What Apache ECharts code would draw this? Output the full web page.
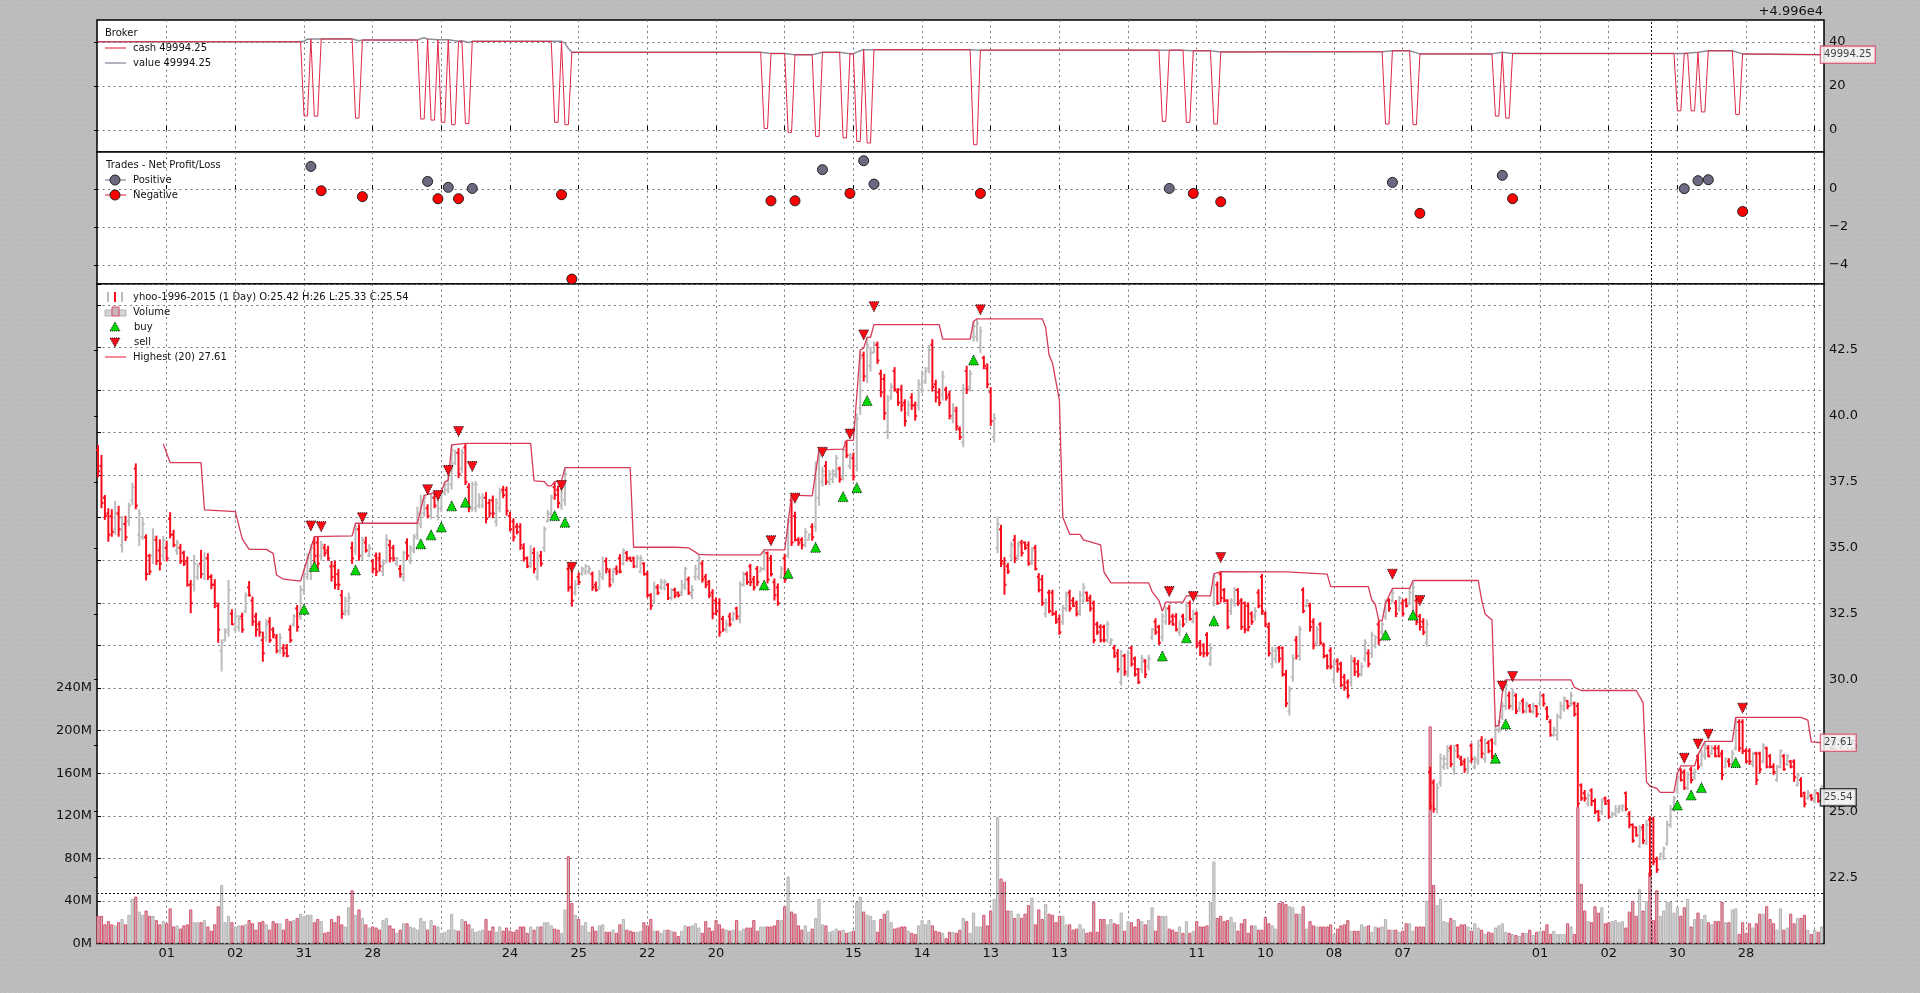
<!DOCTYPE html>
<html>
<head>
<meta charset="utf-8">
<title>yhoo backtest</title>
<script src="https://cdn.jsdelivr.net/npm/echarts@6/dist/echarts.min.js"></script>
<style>
html,body{margin:0;padding:0;background:#bdbbbc;}
#main{width:1920px;height:993px;}
</style>
</head>
<body>
<div id="main"></div>
<script>
//bar values, one entry per trading day
var high = [
38.90,38.52,37.00,36.50,36.46,36.78,36.59,36.21,36.21,36.71,
37.47,38.20,36.46,36.16,35.51,34.77,35.74,35.46,35.32,35.45,
35.27,36.35,35.68,35.30,35.15,34.89,34.67,33.78,34.73,34.41,
34.92,34.83,34.79,34.00,33.81,32.92,31.53,31.95,33.78,32.67,
32.62,32.45,32.54,33.31,33.74,33.15,32.54,32.23,31.82,32.30,
32.37,31.99,31.73,31.76,31.35,31.35,32.07,32.49,32.83,33.58,
34.19,34.79,35.15,35.42,35.42,35.26,35.15,35.08,34.50,34.51,
34.19,33.40,33.15,33.30,35.23,35.87,35.89,35.42,35.42,35.15,
34.58,34.82,34.82,34.56,35.51,35.30,35.11,34.64,34.35,34.89,
35.36,35.10,35.51,36.56,37.01,37.01,36.65,37.03,37.07,37.07,
37.20,37.51,38.00,38.90,38.71,38.78,38.75,38.96,37.45,37.51,
37.54,37.07,37.07,37.11,36.85,36.98,36.88,37.28,37.35,37.32,
36.37,36.12,35.93,35.93,35.17,34.67,35.11,35.01,34.86,34.88,
35.81,36.44,37.01,37.49,37.36,37.51,38.02,34.35,34.29,33.78,
34.07,34.29,34.38,34.33,34.10,33.72,34.16,34.67,34.63,34.22,
34.22,34.33,34.76,34.98,34.88,34.67,34.67,34.73,34.73,34.45,
34.12,33.28,33.72,33.62,33.82,33.81,33.66,33.47,33.49,33.34,
33.78,34.29,33.91,33.59,34.35,34.73,34.51,34.01,33.78,33.43,
33.12,33.09,32.42,32.27,32.54,32.58,32.77,33.72,34.10,34.10,
34.39,33.93,34.31,34.29,34.92,34.86,34.73,33.84,33.65,34.31,
34.77,36.12,37.00,36.37,35.40,35.40,35.74,35.55,35.93,38.27,
38.71,38.08,38.29,37.95,37.98,38.52,38.08,38.77,39.07,38.60,
38.61,40.10,42.44,42.44,42.95,42.63,42.82,42.82,41.75,41.59,
40.80,41.24,41.85,41.05,41.18,40.63,40.58,40.86,40.54,41.39,
41.72,41.85,42.69,42.91,41.37,41.05,41.71,41.11,40.95,40.48,
40.35,39.60,41.21,41.90,41.74,43.58,43.67,43.39,42.28,41.99,
41.09,40.10,36.19,35.87,34.65,34.42,35.24,35.49,35.24,35.30,
35.24,35.24,35.02,35.11,34.04,33.97,33.09,33.41,33.41,32.62,
32.46,32.84,33.34,33.41,33.13,33.00,33.37,33.66,33.34,33.22,
33.00,32.20,32.10,32.08,32.23,31.57,31.32,31.16,31.13,30.98,
31.13,31.28,30.88,30.44,30.94,30.78,30.94,31.95,32.33,32.08,
32.52,32.77,32.84,32.50,32.52,32.27,32.50,32.96,33.00,32.65,
32.59,31.51,31.38,31.80,31.38,34.01,33.72,34.10,33.47,33.05,
33.09,33.51,33.47,33.09,32.96,32.93,32.59,32.75,33.43,34.01,
32.59,32.17,31.26,31.23,31.28,31.26,30.37,29.76,30.97,31.66,
32.04,33.50,33.05,32.92,32.33,32.04,32.18,31.40,30.97,31.23,
30.77,30.81,30.68,30.22,30.01,30.94,30.85,30.75,30.65,31.53,
31.15,31.82,31.69,32.24,32.20,33.05,33.09,33.43,33.02,33.17,
33.05,33.09,33.46,33.72,33.15,32.49,32.33,32.29,26.70,26.22,
26.07,27.21,27.15,27.52,27.52,27.52,27.56,27.11,27.02,27.08,
27.59,27.11,27.71,27.86,27.78,27.71,27.78,28.28,28.47,29.17,
30.01,29.55,29.67,29.48,29.17,29.29,29.17,29.08,29.13,29.04,
29.55,29.48,29.00,28.50,28.22,28.72,29.17,29.36,29.23,29.55,
29.17,29.13,26.07,25.82,25.72,25.88,25.50,25.06,25.50,25.57,
25.47,25.00,25.25,25.25,25.29,25.76,25.02,24.55,24.43,24.49,
24.53,24.68,24.83,24.80,23.29,23.44,23.67,24.66,25.25,25.59,
26.45,26.64,26.60,26.51,26.70,26.64,27.18,27.34,27.65,27.52,
27.52,27.52,27.52,27.34,27.06,27.02,27.34,28.57,28.50,28.50,
27.40,27.40,27.27,27.27,27.27,27.59,27.46,27.18,26.83,26.77,
27.36,27.18,27.18,26.96,26.98,26.48,26.30,25.76,25.82,25.67,
25.85,25.72,26.00];
var low = [
37.67,36.50,36.06,35.23,35.42,35.49,35.42,34.82,35.26,35.83,
36.62,36.46,35.07,35.30,33.76,33.97,34.39,34.35,34.14,34.51,
34.48,35.36,35.02,34.73,34.39,34.31,33.53,32.52,33.34,33.78,
33.84,33.78,33.78,33.43,32.71,31.40,30.31,31.44,31.63,32.07,
31.78,31.82,31.78,32.52,33.15,32.04,31.63,31.63,30.68,31.44,
31.40,31.57,31.00,30.98,30.87,30.85,31.40,32.01,31.82,32.26,
33.21,33.78,33.78,34.35,34.14,34.51,34.67,34.51,33.72,33.43,
33.40,32.31,32.43,32.43,34.39,34.73,34.51,34.54,34.82,34.64,
34.03,33.93,34.10,33.93,34.41,34.45,34.48,34.29,33.87,33.72,
34.54,34.38,34.79,35.30,35.74,36.18,36.12,36.08,36.50,36.06,
36.35,36.98,37.07,37.20,38.14,37.64,37.83,37.38,36.35,36.37,
36.35,36.50,36.50,35.93,36.15,36.12,35.81,36.35,36.88,36.22,
35.62,35.24,35.51,34.92,34.48,34.23,34.23,34.03,33.76,34.29,
34.83,35.97,36.12,36.82,36.50,36.44,36.60,33.34,32.77,33.19,
33.59,33.95,33.97,34.00,33.37,33.34,33.40,33.78,34.03,33.50,
33.66,33.97,34.03,34.33,34.48,34.50,34.23,34.23,34.03,33.95,
33.11,32.65,32.90,33.21,33.40,33.38,33.02,33.00,33.09,33.12,
33.17,33.40,33.21,33.05,33.76,33.78,33.68,33.47,33.09,32.29,
32.45,31.63,31.82,31.78,32.01,32.20,32.27,32.14,33.53,33.60,
33.55,33.38,33.55,34.10,34.14,33.65,33.91,33.00,32.80,33.81,
33.68,34.60,35.07,35.24,35.07,34.94,35.02,35.27,35.27,35.61,
36.59,37.32,37.38,37.38,37.45,37.64,37.47,37.55,38.40,37.98,
37.55,37.89,40.04,41.30,41.24,41.68,42.38,41.97,40.71,39.85,
39.12,40.61,40.92,40.38,40.17,39.60,39.98,40.23,39.82,40.20,
40.86,41.21,41.62,40.92,40.51,40.38,40.58,40.58,39.87,39.72,
39.44,39.09,38.81,40.83,40.92,42.82,42.82,42.38,41.77,41.05,
39.62,38.99,34.80,34.27,33.22,34.01,34.54,34.42,34.54,34.67,
34.92,34.32,34.35,34.14,33.31,32.80,32.36,32.52,32.42,32.12,
31.70,32.08,32.58,32.58,32.75,32.40,32.42,32.90,32.96,32.58,
31.38,31.70,31.41,31.41,31.41,31.32,30.82,30.27,29.77,30.15,
30.09,30.50,30.12,29.84,30.25,30.06,30.35,31.51,31.70,31.32,
31.45,32.08,32.08,32.04,31.83,31.66,31.99,32.14,32.24,32.14,
31.20,30.90,30.85,30.88,30.52,32.77,32.84,32.93,32.93,31.91,
32.46,32.77,32.80,31.89,31.76,31.83,32.08,32.24,32.71,32.46,
31.99,30.88,30.44,30.63,30.65,30.12,28.96,28.64,29.92,30.77,
30.72,32.52,32.74,31.82,31.15,31.25,31.32,30.81,30.39,30.39,
29.84,30.27,29.71,29.58,29.29,29.74,30.14,30.09,30.12,30.68,
30.47,30.81,31.19,31.32,31.69,32.26,32.58,32.92,32.37,32.58,
32.39,32.74,32.83,32.33,32.07,31.86,31.69,31.25,25.06,24.96,
24.93,25.94,26.58,26.60,26.68,26.39,27.02,26.73,26.47,26.45,
26.85,26.60,26.77,27.02,26.85,27.21,26.98,27.50,27.99,28.47,
28.85,28.88,28.83,28.70,28.79,28.72,28.72,28.75,28.70,28.57,
28.98,28.98,28.47,27.84,27.84,27.69,28.50,28.79,28.88,28.98,
28.60,25.16,25.41,25.38,25.19,25.21,24.91,24.62,24.87,25.25,
24.74,24.77,24.81,24.93,24.99,25.02,24.37,23.82,24.05,23.61,
23.77,23.73,22.53,22.97,22.68,23.16,23.16,23.70,24.39,24.99,
25.67,26.14,25.82,25.82,26.07,26.20,26.58,26.70,26.96,27.06,
27.15,27.06,27.06,26.20,26.64,26.68,26.68,27.31,27.27,27.18,
26.83,26.77,26.68,26.01,26.45,26.83,26.64,26.64,26.39,26.13,
26.64,26.55,26.73,26.64,26.13,25.95,25.54,25.16,25.46,25.41,
25.31,25.34,25.33];
var open = [
38.7,38.1,36.9,36.3,36.2,35.7,36.3,35.1,35.9,36.0,
36.8,38.0,35.5,35.4,35.4,34.7,34.7,35.3,34.9,34.7,
35.0,36.1,35.5,34.9,35.0,34.8,34.5,33.6,33.6,33.9,
34.4,34.0,34.6,33.9,33.6,32.8,31.1,31.5,31.9,32.5,
31.9,32.0,32.4,32.6,33.5,33.0,32.4,32.1,31.5,31.6,
32.2,31.9,31.6,31.1,31.2,31.2,31.9,32.1,32.7,32.4,
33.4,33.9,34.2,35.2,35.2,34.7,35.0,34.9,34.3,34.3,
34.0,33.2,32.6,32.6,35.0,34.9,35.7,34.7,35.2,34.7,
34.5,34.7,34.6,34.1,34.5,35.1,35.0,34.4,34.2,33.9,
35.2,34.5,34.9,35.5,35.9,36.3,36.5,36.2,36.9,36.2,
36.5,37.1,37.2,37.4,38.2,38.6,38.0,38.8,37.3,36.5,
36.5,36.6,36.6,36.9,36.7,36.8,36.0,36.5,37.2,37.2,
36.2,36.0,35.8,35.8,35.0,34.6,34.4,34.8,33.9,34.7,
35.0,36.0,36.3,37.3,37.2,36.6,36.8,34.2,33.5,33.3,
33.9,34.0,34.1,34.1,34.0,33.6,33.5,33.9,34.5,34.1,
33.8,34.2,34.6,34.4,34.8,34.6,34.6,34.3,34.1,34.4,
34.0,33.2,33.0,33.5,33.5,33.5,33.6,33.1,33.4,33.3,
33.3,33.5,33.8,33.2,33.9,33.9,34.4,33.9,33.7,33.3,
33.0,32.9,32.3,31.9,32.4,32.3,32.7,32.3,33.6,34.0,
34.3,33.8,34.2,34.1,34.2,34.8,34.6,33.7,33.5,33.9,
34.6,34.7,36.8,36.2,35.3,35.3,35.1,35.3,35.8,35.8,
36.9,37.5,38.1,37.5,37.6,37.8,38.0,37.7,39.0,38.1,
38.4,38.1,40.3,42.3,41.5,41.9,42.4,42.7,41.6,41.4,
39.4,40.7,41.7,40.9,41.0,40.5,40.1,40.7,40.4,40.4,
41.0,41.3,41.8,42.7,41.2,40.9,40.8,41.0,40.8,39.9,
40.2,39.5,39.0,41.7,41.1,43.0,43.0,42.6,42.2,41.8,
40.9,39.2,35.0,35.7,34.4,34.3,34.7,35.3,34.7,35.2,
35.2,35.1,34.5,35.0,33.9,33.8,32.5,33.3,33.3,32.5,
32.3,32.2,32.7,33.3,33.0,32.9,32.6,33.0,33.3,33.1,
32.9,32.1,32.0,32.0,31.5,31.4,31.2,31.0,29.9,30.9,
30.2,31.2,30.8,30.4,30.4,30.7,30.5,31.6,32.2,32.0,
31.6,32.2,32.7,32.4,32.4,31.8,32.4,32.3,32.9,32.2,
32.5,31.4,31.3,31.7,30.6,32.9,33.6,34.0,33.4,33.0,
32.6,32.9,33.4,33.0,32.9,32.8,32.5,32.4,33.3,33.9,
32.5,32.0,30.6,30.8,31.2,31.2,30.2,28.8,30.1,31.5,
30.9,33.4,32.8,32.8,32.2,31.4,32.1,31.3,30.9,31.1,
30.0,30.7,30.6,30.1,29.9,29.9,30.7,30.6,30.2,30.8,
31.0,31.0,31.3,32.1,31.8,32.4,33.0,33.0,32.9,32.7,
32.9,33.0,32.9,32.5,33.0,32.4,32.2,31.4,26.5,26.1,
25.1,26.1,26.7,26.8,27.4,26.6,27.5,27.0,26.9,26.6,
27.5,26.7,26.9,27.7,27.0,27.6,27.7,27.6,28.1,28.6,
29.0,29.4,29.0,29.4,28.9,29.2,28.8,29.0,28.8,29.0,
29.1,29.4,28.9,28.4,27.9,27.9,28.6,28.9,29.2,29.1,
29.1,29.0,26.0,25.7,25.3,25.8,25.4,25.0,25.0,25.5,
25.4,24.8,24.9,25.0,25.1,25.7,24.9,24.5,24.4,23.7,
24.4,23.8,24.7,24.7,23.2,23.2,23.3,23.8,24.5,25.1,
25.8,26.6,26.5,25.9,26.6,26.3,27.1,26.8,27.1,27.4,
27.2,27.4,27.4,27.2,26.7,26.9,26.8,27.4,28.4,28.4,
27.3,27.3,26.8,27.2,27.2,26.9,27.4,27.1,26.7,26.2,
26.7,27.1,26.8,26.9,26.9,26.0,26.2,25.7,25.5,25.6,
25.4,25.7,25.42];
var close = [
37.9,36.7,36.2,35.5,35.6,36.3,35.7,35.9,35.4,36.6,
37.3,36.6,36.3,35.9,34.0,34.1,35.4,34.5,34.4,35.3,
34.6,35.5,35.1,35.2,34.5,34.4,33.6,32.9,34.4,34.3,
34.0,34.6,33.9,33.6,32.9,31.9,31.4,31.8,33.4,32.1,
32.4,32.3,31.9,33.2,33.2,32.2,31.9,31.8,31.0,32.1,
31.5,31.7,31.1,31.6,31.0,30.9,31.5,32.4,32.0,33.4,
34.0,34.6,35.0,34.7,34.4,35.1,34.8,34.6,33.9,33.6,
33.6,32.5,33.0,33.1,34.6,35.7,34.7,35.3,34.9,35.0,
34.2,34.1,34.3,34.4,35.3,34.6,34.6,34.6,34.0,34.8,
34.7,35.0,35.4,36.3,36.8,36.9,36.2,36.9,36.6,36.9,
37.1,37.4,37.9,38.7,38.6,37.8,38.6,37.5,36.5,37.4,
37.4,36.9,36.9,36.1,36.3,36.3,36.7,37.1,37.0,36.4,
35.7,35.4,35.6,35.1,34.6,34.3,34.9,34.2,34.6,34.4,
35.7,36.3,36.9,37.0,36.7,37.3,37.8,33.5,33.0,33.6,
33.7,34.2,34.3,34.2,33.5,33.4,34.0,34.5,34.2,33.6,
34.1,34.1,34.1,34.9,34.6,34.5,34.3,34.6,34.6,34.0,
33.2,32.8,33.5,33.3,33.7,33.7,33.1,33.4,33.2,33.2,
33.6,34.2,33.3,33.4,34.2,34.6,33.8,33.6,33.2,32.5,
32.6,31.8,31.9,32.1,32.1,32.5,32.4,33.6,34.0,33.7,
33.7,33.5,33.7,34.2,34.8,33.8,34.0,33.2,32.9,34.2,
33.8,36.0,35.2,35.3,35.2,35.1,35.6,35.5,35.4,38.0,
38.5,37.9,37.5,37.8,37.9,38.4,37.6,38.7,38.5,38.5,
37.7,39.9,42.2,41.5,42.7,42.4,42.7,42.1,40.9,40.1,
40.6,41.1,41.0,40.5,40.4,39.8,40.4,40.4,40.0,41.2,
41.6,41.7,42.5,41.1,40.7,40.5,41.5,40.7,40.0,40.3,
39.6,39.2,41.0,41.0,41.6,43.4,43.5,43.2,41.9,41.2,
39.8,39.9,35.9,34.5,33.6,34.1,35.1,34.6,35.1,34.8,
35.0,34.4,34.9,34.2,33.4,32.9,32.9,32.6,32.5,32.2,
31.8,32.7,33.2,32.7,32.8,32.5,33.2,33.5,33.0,32.7,
31.5,31.8,31.5,31.5,32.1,31.5,30.9,30.4,30.9,30.3,
31.0,30.6,30.2,29.9,30.8,30.2,30.8,31.9,31.8,31.4,
32.4,32.7,32.2,32.1,31.9,32.1,32.1,32.8,32.3,32.5,
31.3,31.0,31.0,31.0,31.2,33.9,32.9,33.1,33.0,32.0,
33.0,33.4,32.9,32.0,31.9,32.0,32.2,32.6,32.8,32.6,
32.1,31.0,31.1,31.1,30.8,30.2,29.1,29.6,30.8,30.9,
31.9,32.6,33.0,32.0,31.3,31.9,31.4,30.9,30.5,30.5,
30.6,30.4,29.8,29.7,29.4,30.8,30.3,30.2,30.5,31.4,
30.6,31.7,31.6,31.5,32.1,32.9,32.7,33.3,32.5,33.1,
32.5,32.8,33.3,33.5,32.2,32.0,31.8,32.1,25.2,25.1,
25.9,27.0,27.0,27.3,26.8,27.3,27.1,26.8,26.6,26.9,
27.0,27.0,27.5,27.2,27.6,27.3,27.1,28.1,28.4,29.0,
29.8,29.0,29.5,28.8,29.1,28.8,29.1,28.8,29.0,28.7,
29.4,29.1,28.6,27.9,28.1,28.6,29.0,29.3,29.0,29.4,
28.7,25.3,25.5,25.5,25.6,25.4,25.0,24.7,25.4,25.3,
24.8,24.9,25.1,25.2,25.2,25.1,24.5,23.9,24.1,24.3,
23.9,24.5,22.7,23.1,22.8,23.4,23.6,24.5,25.1,25.5,
26.3,26.2,25.9,26.4,26.2,26.5,26.7,27.2,27.5,27.1,
27.4,27.1,27.1,26.4,27.0,26.8,27.2,28.4,27.4,27.3,
26.9,26.9,27.2,26.2,26.6,27.5,26.7,26.7,26.5,26.7,
27.3,26.6,27.1,26.7,26.3,26.4,25.6,25.3,25.7,25.5,
25.8,25.4,25.54];
//volume in millions
var volume = [
26,26,18,21,18,17,20,23,18,27,
42,44,30,27,31,26,26,22,18,21,
19,33,16,17,14,17,18,32,20,20,
20,22,16,12,18,35,55,20,26,20,
16,17,17,18,22,19,13,20,21,18,
13,21,19,19,13,23,21,22,24,28,
26,27,27,20,23,21,10,11,23,20,
26,18,16,34,50,27,32,24,18,15,
16,15,13,22,24,17,14,10,13,19,
19,16,15,13,24,21,13,22,17,16,
10,11,13,28,13,12,23,21,18,14,
11,12,13,23,12,16,11,16,12,15,
12,11,13,16,16,10,16,13,16,16,
20,20,17,14,13,10,32,82,38,27,
23,17,20,11,16,12,17,18,11,11,
13,10,18,23,13,12,11,11,12,20,
17,23,12,12,10,13,13,12,11,7,
12,17,16,17,19,15,10,21,15,12,
22,18,14,13,12,13,22,12,14,15,
15,22,12,16,16,16,16,17,22,22,
35,63,30,28,17,13,17,11,14,24,
42,18,17,11,12,14,12,13,10,11,
12,39,44,30,27,26,22,11,23,28,
31,20,14,15,16,16,12,10,9,17,
22,18,22,17,12,11,10,5,11,11,
10,13,24,21,10,29,16,16,27,17,
31,42,119,61,58,31,31,24,28,24,
28,36,43,18,32,23,37,28,27,20,
26,26,18,18,13,14,18,14,10,11,
39,11,23,23,18,23,19,18,29,12,
21,20,16,23,21,18,22,34,12,26,
26,26,14,13,11,16,10,21,10,12,
21,16,16,17,39,77,24,26,21,22,
25,20,12,19,23,10,17,17,13,13,
25,19,17,14,38,39,37,35,34,28,
28,35,14,21,17,16,16,16,16,18,
9,14,17,18,22,12,12,12,18,16,
17,11,16,15,16,23,13,13,13,11,
12,19,19,12,16,16,16,40,204,55,
36,42,21,20,24,22,16,18,18,16,
12,19,15,13,9,11,10,15,17,19,
11,10,9,8,7,10,10,13,8,11,
12,12,18,9,12,9,9,9,19,16,
9,128,56,31,21,20,35,29,34,19,
20,21,22,20,21,15,30,40,26,51,
31,40,67,22,50,26,31,39,39,29,
34,26,34,42,16,23,29,23,27,20,
18,21,21,39,20,20,32,33,9,20,
10,19,15,19,28,28,35,23,19,13,
33,13,15,28,19,24,24,27,13,9,
13,11,16];

//Highest (20), corners of the line
var highestX = [19,21,30,31,40,42,44,49,51,52,54,59,63,74,75,84,93,95,96,100,101,102,103,107,126,127,130,131,132,133,135,136,155,156,168,172,175,178,193,194,200,202,208,210,217,218,220,222,223,224,225,226,245,246,254,255,256,275,276,277,278,280,281,283,286,287,292,293,295,306,307,309,310,311,316,317,324,325,327,346,358,359,370,371,372,373,374,375,377,382,383,402,403,404,406,407,408,409,410,425,429,430,432,448,450,451,452,454,455,459,460,461,465,466,468,476,477,496,498,499,502];
var highestY = [38.94,38.23,38.23,36.44,36.37,35.34,34.94,34.94,34.79,33.97,33.81,33.74,35.42,35.45,35.93,35.93,35.93,36.98,37.03,37.13,37.49,37.57,38.90,38.96,38.96,37.54,37.51,37.35,37.35,37.51,37.54,38.04,38.04,35.02,35.02,35.00,34.75,34.73,34.73,34.92,34.92,37.00,36.97,38.71,38.74,39.07,39.07,42.50,42.57,42.98,42.98,43.46,43.46,42.91,42.91,43.58,43.68,43.68,43.36,42.31,42.00,40.60,36.16,35.51,35.51,35.30,35.11,34.08,33.67,33.67,33.34,33.00,32.59,32.94,32.94,33.18,33.18,34.01,34.10,34.09,34.00,33.53,33.53,33.02,32.86,32.26,32.23,32.90,33.46,33.46,33.76,33.76,33.02,32.49,32.26,28.22,28.28,29.48,29.99,29.99,29.99,29.71,29.59,29.59,29.13,26.13,25.97,25.88,25.73,25.73,26.45,26.73,26.73,27.15,27.66,27.66,28.57,28.57,28.47,27.64,27.61];

//broker lines, y is the amount above 49960
var cashX = [0,59,60,61,62,63,64,65,74,75,76,77,93,94,95,96,97,98,99,100,101,102,103,104,105,106,107,108,109,132,133,134,135,136,137,138,193,194,195,196,200,201,202,203,208,209,210,211,216,217,218,219,220,221,222,223,224,225,226,254,255,256,257,309,310,311,312,316,317,318,319,324,325,326,327,374,375,376,377,382,383,384,385,406,407,408,409,410,411,412,459,460,461,462,463,464,465,466,467,468,469,476,477,478,479,502];
var cashY = [40.1,40.1,6.4,6.4,41.4,6.3,6.3,41.4,41.4,5.4,5.4,40.9,40.9,5,5,41.4,4.5,4.5,41,3.5,3.5,41,2.4,2.4,40.3,40.3,2.9,2.9,40.3,40.3,3.5,3.5,40.3,2.4,2.4,35.3,35.3,0.7,0.7,34.8,34.8,-1.1,-1.1,34.2,34.2,-2.9,-2.9,35.3,35.3,-3.6,-3.6,34.7,34.7,-5.2,-5.2,36.5,-5.9,-5.9,36.5,36.5,-6.7,-6.7,36.3,36.3,3.9,3.9,36.3,36.3,3.5,3.5,36,36,2.7,2.7,35.5,35.6,2.7,2.7,36,36,2.4,2.4,34.6,34.6,6.3,6.3,35.3,5.4,5.4,34.8,34.8,8.7,8.7,34.8,34.8,8.7,8.7,35.3,8.2,8.2,36,36,7,7,34.6,34.25];
var valueX = [0,59,60,61,62,63,74,76,77,93,94,95,96,99,102,104,105,106,108,109,132,135,136,137,138,193,196,200,203,208,211,216,219,220,222,223,254,257,309,316,319,324,327,374,377,382,385,406,409,412,459,462,466,469,476,479,502];
var valueY = [40.1,40.1,40.3,41.4,41.2,41.4,41.4,40.6,40.9,40.9,41.5,41.9,41.4,41,41,40.6,40.3,40.6,39.8,40.3,40.3,40.3,39.5,37,35.3,35.3,34.8,34.8,34.2,34.2,35.3,35.3,34.7,34.7,36,36.5,36.5,36.3,36.3,36.3,36,36,35.5,35.6,36,36,34.6,34.6,35.3,34.8,34.8,34.8,35.3,36,36,34.6,34.25];

//closed trades, net profit/loss
var positiveX = [62,96,102,109,211,223,226,312,377,409,462,466,469];
var positiveY = [1.19,0.4,0.09,0.03,1.02,1.49,0.26,0.03,0.35,0.72,0.02,0.44,0.49];
var negativeX = [65,77,99,105,135,138,196,203,219,257,319,327,385,412,479];
var negativeY = [-0.09,-0.4,-0.51,-0.51,-0.3,-4.74,-0.62,-0.62,-0.23,-0.23,-0.23,-0.67,-1.28,-0.51,-1.18];

//buy and sell markers on the price panel
var buyX = [60,63,75,94,97,100,103,107,133,136,194,201,209,217,221,224,255,310,317,325,375,383,407,410,460,464,467,477];
var buyY = [32.67,34.29,34.16,35.15,35.49,35.79,36.59,36.73,36.22,35.97,33.59,34.03,35.02,36.94,37.28,40.58,42.12,30.9,31.59,32.23,31.69,32.45,27.02,28.32,25.25,25.63,25.91,26.86];
var sellX = [62,65,77,96,99,102,105,109,135,138,196,203,211,219,223,226,257,312,319,327,377,385,409,412,462,466,469,479];
var sellY = [35.83,35.8,36.14,37.2,36.98,37.93,39.41,38.08,37.36,34.26,35.27,36.88,38.62,39.31,43.07,44.14,44.02,33.34,33.15,34.63,34,33,29.76,30.12,27.02,27.56,27.93,28.92];

var tickLabels = ["01","02","31","28","","24","25","22","20","","15","14","13","13","","11","10","08","07","","01","02","30","28",""];
var tickBars = [20,40,60,80,100,120,140,160,180,200,220,240,260,280,300,320,340,360,380,400,420,440,460,480,500];

//crosshair left on the figure
var cursorBar = 452.3;
var cursorVolume = 47;

var FONT = "DejaVu Sans";
var RED = "#f80d1d";
var GRAY = "#bdbbbb";
var VOL_RED = "#d9506c";
var GRID_STYLE = {color: "#77777f", width: 1, type: [2, 3.5]};
var X_MIN = -0.3, X_MAX = 502.7;

function zip(xs, ys){
    var out = [];
    for(var i = 0; i < xs.length; i++){
        out.push([xs[i], ys[i]]);
    }
    return out;
}

//faint dots of the figure background
function backgroundTile(){
    var tile = document.createElement("canvas");
    tile.width = 5;
    tile.height = 5;
    var ctx = tile.getContext("2d");
    ctx.fillStyle = "#bdbbbc";
    ctx.fillRect(0, 0, 5, 5);
    ctx.fillStyle = "#c8c7c7";
    ctx.fillRect(2, 2, 1, 1);
    return tile;
}

function xAxisFor(gridIndex, withLabels){
    return {
        type: "value",
        gridIndex: gridIndex,
        min: X_MIN,
        max: X_MAX,
        axisLine: {show: false},
        axisTick: {show: true, inside: true, length: 4, customValues: tickBars, lineStyle: {color: "#000"}},
        axisLabel: {
            show: withLabels,
            customValues: tickBars,
            color: "#111",
            fontFamily: FONT,
            fontSize: 13,
            margin: 4,
            formatter: function(v){
                return tickLabels[tickBars.indexOf(v)];
            }
        },
        splitLine: {show: true, lineStyle: GRID_STYLE}
    };
}

function rightAxis(gridIndex, lo, hi, ticks){
    return {
        type: "value",
        gridIndex: gridIndex,
        position: "right",
        min: lo,
        max: hi,
        axisLine: {show: false},
        axisTick: {show: true, inside: true, length: 4, customValues: ticks, lineStyle: {color: "#000"}},
        axisLabel: {
            customValues: ticks,
            color: "#111",
            fontFamily: FONT,
            fontSize: 13,
            margin: 5,
            formatter: function(v){
                return String(v).replace("-", "\u2212");
            }
        },
        splitLine: {show: true, lineStyle: GRID_STYLE}
    };
}

function cursorLine(data){
    return {
        silent: true,
        symbol: "none",
        animation: false,
        label: {show: false},
        lineStyle: {color: "#111", width: 1, type: [2, 2]},
        data: data
    };
}

//end of line label box on the right edge
function endLabel(name, gridIndex, yAxisIndex, value, text, border){
    return {
        name: name,
        type: "scatter",
        xAxisIndex: gridIndex,
        yAxisIndex: yAxisIndex,
        data: [[X_MAX, value]],
        symbolSize: 0,
        clip: false,
        silent: true,
        z: 20,
        label: {
            show: true,
            position: "right",
            offset: [-8, 0],
            formatter: text,
            color: "#111",
            fontFamily: FONT,
            fontSize: 10,
            backgroundColor: "#fff",
            borderColor: border,
            borderWidth: 1.3,
            padding: [3, 3]
        }
    };
}

function renderBar(params, api){
    var i = api.value(0);
    var o = api.coord([i, api.value(1)]);
    var h = api.coord([i, api.value(2)]);
    var l = api.coord([i, api.value(3)]);
    var c = api.coord([i, api.value(4)]);
    var up = api.value(4) >= api.value(1);
    var style = {stroke: up ? GRAY : RED, lineWidth: 2, fill: null};
    return {
        type: "group",
        children: [
            {type: "line", shape: {x1: h[0], y1: h[1], x2: l[0], y2: l[1]}, style: style},
            {type: "line", shape: {x1: o[0] - 2, y1: o[1], x2: o[0], y2: o[1]}, style: style},
            {type: "line", shape: {x1: c[0], y1: c[1], x2: c[0] + 2, y2: c[1]}, style: style}
        ]
    };
}

var ohlcData = [];
var volumeData = [];
for(var i = 0; i < high.length; i++){
    var isUp = close[i] >= open[i];
    ohlcData.push([i, open[i], high[i], low[i], close[i]]);
    volumeData.push({
        value: [i, volume[i]],
        itemStyle: isUp ? {color: "#d6d5d5", borderColor: "#b4b3b3"} : {color: "#c9b6bb", borderColor: VOL_RED}
    });
}

//legend rows are drawn by hand, the mixed icons are not available in the built in legend
function legendText(x, y, text){
    return {type: "text", x: x, y: y, style: {text: text, fill: "#111", font: "10px " + FONT, textVerticalAlign: "middle"}, z: 30};
}
function legendLine(y, color){
    return {type: "line", shape: {x1: 105, y1: y, x2: 126, y2: y}, style: {stroke: color, lineWidth: 1}, z: 30};
}
function legendDot(y, color){
    return {type: "circle", shape: {cx: 115, cy: y, r: 5}, style: {fill: color, stroke: "#222", lineWidth: 1}, z: 31};
}
function legendTri(y, color, down){
    var pts = down ? [[110, y - 4], [120, y - 4], [115, y + 5]] : [[110, y + 4], [120, y + 4], [115, y - 5]];
    return {type: "polygon", shape: {points: pts}, style: {fill: color, stroke: "#111", lineWidth: 1, lineDash: [1, 1]}, z: 30};
}
function legendTick(x, y, color){
    return {type: "line", shape: {x1: x, y1: y - 5, x2: x, y2: y + 5}, style: {stroke: color, lineWidth: 2}, z: 30};
}
function legendRect(x, y, w, h, fill, stroke){
    return {type: "rect", shape: {x: x, y: y, width: w, height: h}, style: {fill: fill, stroke: stroke, lineWidth: 1}, z: 30};
}

var legendItems = [
    legendText(105, 33, "Broker"),
    legendLine(48, "#ea1630"), legendText(133, 48, "cash 49994.25"),
    legendLine(63, "#6b6a80"), legendText(133, 63, "value 49994.25"),
    legendText(106, 165, "Trades - Net Profit/Loss"),
    legendLine(180, "#6b6a80"), legendDot(180, "#6b6a80"), legendText(133, 180, "Positive"),
    legendLine(195, "#ea1630"), legendDot(195, "#ff0000"), legendText(133, 195, "Negative"),
    legendTick(108, 297, GRAY), legendTick(115, 297, RED), legendTick(122, 297, GRAY),
    legendText(133, 297, "yhoo-1996-2015 (1 Day) O:25.42 H:26 L:25.33 C:25.54"),
    legendRect(105, 310, 7, 6, "#d6d5d5", "#b4b3b3"), legendRect(119, 310, 7, 6, "#d6d5d5", "#b4b3b3"),
    legendRect(112, 307, 7, 9, "#c9b6bb", VOL_RED), legendText(133, 312, "Volume"),
    legendTri(327, "#00d800", false), legendText(134, 327, "buy"),
    legendTri(342, RED, true), legendText(134, 342, "sell"),
    legendLine(357, "#ea1630"), legendText(133, 357, "Highest (20) 27.61"),
    {type: "text", right: 97, top: 5, style: {text: "+4.996e4", fill: "#111", font: "13px " + FONT}, z: 30}
];

var myChart = echarts.init(document.getElementById("main"));
var option = {
    animation: false,
    backgroundColor: {image: backgroundTile(), repeat: "repeat"},
    textStyle: {fontFamily: FONT},
    grid: [
        {left: 97, width: 1727, top: 20, height: 132, show: true, backgroundColor: "#fff", borderColor: "#000", borderWidth: 1.5},
        {left: 97, width: 1727, top: 152, height: 132, show: true, backgroundColor: "#fff", borderColor: "#000", borderWidth: 1.5},
        {left: 97, width: 1727, top: 284, height: 659.5, show: true, backgroundColor: "#fff", borderColor: "#000", borderWidth: 1.5}
    ],
    xAxis: [xAxisFor(0, false), xAxisFor(1, false), xAxisFor(2, true)],
    yAxis: [
        rightAxis(0, -10, 50, [0, 20, 40]),
        rightAxis(1, -5, 1.95, [-4, -2, 0]),
        {
            type: "value",
            gridIndex: 2,
            position: "right",
            min: 20,
            max: 45,
            interval: 2.5,
            axisLine: {show: false},
            axisTick: {show: true, inside: true, length: 4, lineStyle: {color: "#000"}},
            axisLabel: {
                color: "#111",
                fontFamily: FONT,
                fontSize: 13,
                margin: 5,
                showMinLabel: false,
                showMaxLabel: false,
                formatter: function(v){
                    return v.toFixed(1);
                }
            },
            splitLine: {show: false}
        },
        {
            type: "value",
            gridIndex: 2,
            position: "left",
            min: 0,
            max: 619.6,
            interval: 40,
            axisLine: {show: false},
            axisTick: {show: true, inside: true, length: 4, lineStyle: {color: "#000"}},
            axisLabel: {
                color: "#111",
                fontFamily: FONT,
                fontSize: 13,
                margin: 5,
                formatter: function(v){
                    return v <= 240 ? v + "M" : "";
                }
            },
            splitLine: {show: true, lineStyle: GRID_STYLE}
        }
    ],
    graphic: {elements: legendItems},
    series: [
        {
            name: "value",
            type: "line",
            xAxisIndex: 0,
            yAxisIndex: 0,
            data: zip(valueX, valueY),
            showSymbol: false,
            lineStyle: {color: "#8f8e9a", width: 1.5},
            z: 3
        },
        {
            name: "cash",
            type: "line",
            xAxisIndex: 0,
            yAxisIndex: 0,
            data: zip(cashX, cashY),
            showSymbol: false,
            lineStyle: {color: "#e02647", width: 1},
            markLine: cursorLine([{xAxis: cursorBar}]),
            z: 4
        },
        endLabel("cash end", 0, 0, cashY[cashY.length - 1], "49994.25", VOL_RED),
        {
            name: "Positive",
            type: "scatter",
            xAxisIndex: 1,
            yAxisIndex: 1,
            data: zip(positiveX, positiveY),
            symbolSize: 10,
            itemStyle: {color: "#6b6a80", borderColor: "#222", borderWidth: 1, opacity: 1},
            markLine: cursorLine([{xAxis: cursorBar}]),
            z: 4
        },
        {
            name: "Negative",
            type: "scatter",
            xAxisIndex: 1,
            yAxisIndex: 1,
            data: zip(negativeX, negativeY),
            symbolSize: 10,
            itemStyle: {color: "#ff0000", borderColor: "#222", borderWidth: 1, opacity: 1},
            z: 4
        },
        {
            name: "Volume",
            type: "bar",
            xAxisIndex: 2,
            yAxisIndex: 3,
            data: volumeData,
            barWidth: 3.2,
            itemStyle: {borderWidth: 1},
            markLine: cursorLine([{yAxis: cursorVolume}, {xAxis: cursorBar}]),
            z: 2
        },
        {
            name: "yhoo-1996-2015",
            type: "custom",
            xAxisIndex: 2,
            yAxisIndex: 2,
            data: ohlcData,
            renderItem: renderBar,
            encode: {x: 0, y: [1, 2, 3, 4]},
            z: 3
        },
        {
            name: "Highest (20)",
            type: "line",
            xAxisIndex: 2,
            yAxisIndex: 2,
            data: zip(highestX, highestY),
            showSymbol: false,
            lineStyle: {color: "#d63a58", width: 1.3},
            z: 4
        },
        {
            name: "buy",
            type: "scatter",
            xAxisIndex: 2,
            yAxisIndex: 2,
            data: zip(buyX, buyY),
            symbol: "triangle",
            symbolSize: 10,
            itemStyle: {color: "#00d800", borderColor: "#111", borderWidth: 1, borderType: [1, 1], opacity: 1},
            z: 5
        },
        {
            name: "sell",
            type: "scatter",
            xAxisIndex: 2,
            yAxisIndex: 2,
            data: zip(sellX, sellY),
            symbol: "triangle",
            symbolRotate: 180,
            symbolSize: 10,
            itemStyle: {color: "#ff0a14", borderColor: "#111", borderWidth: 1, borderType: [1, 1], opacity: 1},
            z: 5
        },
        endLabel("highest end", 2, 2, 27.61, "27.61", VOL_RED),
        endLabel("close end", 2, 2, 25.54, "25.54", "#111")
    ]
};
myChart.setOption(option);
</script>
</body>
</html>
